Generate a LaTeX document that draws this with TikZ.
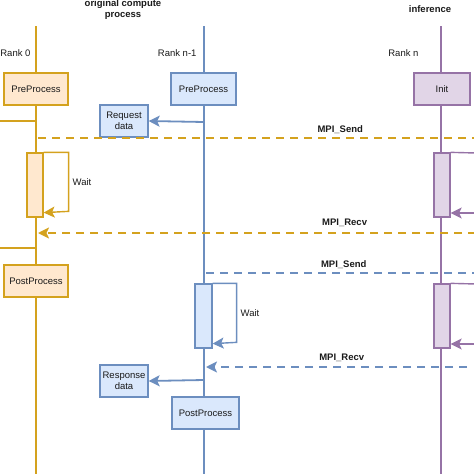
\documentclass[tikz,border=0pt]{standalone}
\usepackage{fontspec}
\setmainfont{Liberation Sans}
\usetikzlibrary{positioning,arrows.meta,backgrounds}

\definecolor{goldline}{HTML}{D4A21E}
\definecolor{goldfill}{HTML}{FFE8CF}
\definecolor{blueline}{HTML}{6C8EBF}
\definecolor{bluefill}{HTML}{DAE8FC}
\definecolor{purpline}{HTML}{9673A6}
\definecolor{purpfill}{HTML}{E1D5E7}
\definecolor{txt}{HTML}{1A1A1A}

\begin{document}
\begin{tikzpicture}[x=1pt,y=-1pt,
        font=\fontsize{9.5}{11}\selectfont, text=txt,
        life/.style={line width=1.8pt},
        box/.style={draw,line width=1.3pt,minimum height=32pt,inner sep=1pt,align=center},
        act/.style={draw,line width=1.3pt,minimum width=16pt,minimum height=64pt,inner sep=0pt},
        msg/.style={line width=1.8pt,dash pattern=on 8pt off 6pt},
        selfloop/.style={line width=1.4pt},
        arr/.style={-{Stealth[length=11pt,width=11pt,inset=2.5pt]}},
        lbl/.style={font=\fontsize{9.5}{11}\selectfont\bfseries}]
    \useasboundingbox (0,0) rectangle (474,474);

    % titles
    \node[lbl,align=center] (title) at (123,9.5) {original compute\\process};
    \node[lbl] (inf) at (430,9) {inference};

    % rank labels
    \coordinate (r0) at (36,53);
    \coordinate (r1) at (204,53);
    \coordinate (r2) at (441,53);
    \node[left=2pt of r0] (l0) {Rank 0};
    \node[left=4pt of r1] (l1) {Rank n-1};
    \node[left=19pt of r2] (l2) {Rank n};

    % boxes
    \node[box,goldline,fill=goldfill,minimum width=64pt] (pre0) at (36,89) {\color{txt}PreProcess};
    \node[box,blueline,fill=bluefill,minimum width=65pt] (pre1) at (203.5,89) {\color{txt}PreProcess};
    \node[box,purpline,fill=purpfill,minimum width=56pt] (init) at (442,89) {\color{txt}Init};
    \node[box,blueline,fill=bluefill,minimum width=48pt] (req) at (124,121) {\color{txt}Request\\\color{txt}data};
    \node[box,goldline,fill=goldfill,minimum width=64pt] (post0) at (36,281) {\color{txt}PostProcess};
    \node[box,blueline,fill=bluefill,minimum width=48pt] (resp) at (124,381) {\color{txt}Response\\\color{txt}data};
    \node[box,blueline,fill=bluefill,minimum width=67pt] (post1) at (205.5,413) {\color{txt}PostProcess};

    % activations
    \node[act,goldline,fill=goldfill] (w0) at (35,185) {};
    \node[act,blueline,fill=bluefill,minimum width=17pt] (w1) at (203.5,316) {};
    \node[act,purpline,fill=purpfill] (wa) at (442,185) {};
    \node[act,purpline,fill=purpfill] (wb) at (442,316) {};

    % wait loops
    \draw[selfloop,goldline,arr] (w0.north east) -- ++(25,0) -- node[right,text=txt] {Wait} ++(0,59) -- ([yshift=5pt]w0.south east);
    \draw[selfloop,blueline,arr] (w1.north east) -- ++(24,0) -- node[right,text=txt] {Wait} ++(0,59) -- ([yshift=5pt]w1.south east);
    \coordinate (oa) at (476,153);
    \coordinate (ia) at (476,213);
    \coordinate (ob) at (476,284);
    \coordinate (ib) at (476,344);
    \draw[selfloop,purpline] (wa.north east) -- (oa);
    \draw[selfloop,purpline,arr] (ia) -- (wa.east |- ia);
    \draw[selfloop,purpline] (wb.north east) -- (ob);
    \draw[selfloop,purpline,arr] (ib) -- (wb.east |- ib);

    % messages
    \coordinate (s0) at (38,138);
    \coordinate (e0) at (476,138);
    \coordinate (s1) at (476,233);
    \coordinate (e1) at (38,233);
    \coordinate (s2) at (206,273);
    \coordinate (e2) at (476,273);
    \coordinate (s3) at (467,367);
    \coordinate (e3) at (206,367);
    \draw[msg,goldline] (s0) -- node[pos=0.69,above=0pt,lbl,text=txt] {MPI\_Send} (e0);
    \draw[msg,goldline,arr] (s1) -- node[pos=0.30,above=2pt,lbl,text=txt] {MPI\_Recv} (e1);
    \draw[msg,blueline] (s2) -- node[pos=0.51,above=0pt,lbl,text=txt] {MPI\_Send} (e2);
    \draw[msg,blueline,arr] (s3) -- node[pos=0.48,above=1pt,lbl,text=txt] {MPI\_Recv} (e3);

    % data arrows
    \coordinate (q) at (204,122);
    \coordinate (p) at (204,380);
    \draw[life,blueline,arr] (q) -- (req.east);
    \draw[life,blueline,arr] (p) -- (resp.east);

    \begin{scope}[on background layer]
        % lifelines
        \coordinate (t0) at (36,26);
        \coordinate (b0) at (36,476);
        \coordinate (t1) at (204,26);
        \coordinate (b1) at (204,476);
        \coordinate (t2) at (441,26);
        \coordinate (b2) at (441,476);
        \draw[life,goldline] (t0) -- (b0);
        \draw[life,blueline] (t1) -- (b1);
        \draw[life,purpline] (t2) -- (b2);
        \coordinate (in0) at (-2,121);
        \coordinate (in1) at (-2,248);
        \draw[life,goldline] (in0) -- (in0 -| t0);
        \draw[life,goldline] (in1) -- (in1 -| t0);
    \end{scope}
\end{tikzpicture}
\end{document}
